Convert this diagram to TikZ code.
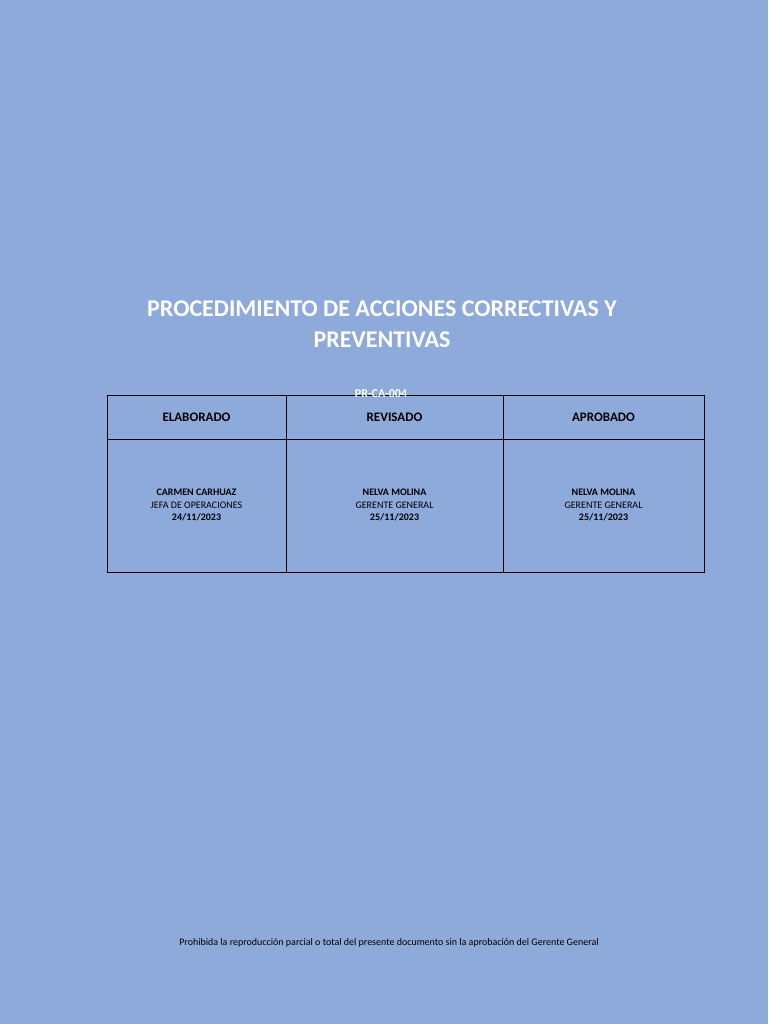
\documentclass[tikz,border=0pt]{standalone}
\usepackage{fontspec}
\setmainfont{Carlito}
\definecolor{bg}{HTML}{8EAADB}
\begin{document}
\begin{tikzpicture}[x=1pt,y=-1pt,
  hdr/.style={font=\fontsize{13}{15}\selectfont\bfseries, text=black},
  cell/.style={font=\fontsize{10}{12.5}\selectfont, align=center, text=black}]
\fill[bg] (0,0) rectangle (768,1024);
\useasboundingbox (0,0) rectangle (768,1024);
\node[text=white, font=\fontsize{24}{31}\selectfont\bfseries, align=center] (title) at (382,324) {PROCEDIMIENTO DE ACCIONES CORRECTIVAS Y\\PREVENTIVAS};
\draw[line width=0.8pt] (107,395) rectangle (704,572);
\draw[line width=0.8pt] (107,439) -- (704,439);
\draw[line width=0.8pt] (286,395) -- (286,572);
\draw[line width=0.8pt] (503,395) -- (503,572);
\node[text=white, font=\fontsize{12}{14}\selectfont\bfseries] (code) at (381,394) {PR-CA-004};
\node[hdr] (h1) at (196.5,417) {ELABORADO};
\node[hdr] (h2) at (394.5,417) {REVISADO};
\node[hdr] (h3) at (603.5,417) {APROBADO};
\node[cell] (c1) at (196.5,505) {\textbf{CARMEN CARHUAZ}\\JEFA DE OPERACIONES\\\textbf{24/11/2023}};
\node[cell] (c2) at (394.5,505) {\textbf{NELVA MOLINA}\\GERENTE GENERAL\\\textbf{25/11/2023}};
\node[cell] (c3) at (603.5,505) {\textbf{NELVA MOLINA}\\GERENTE GENERAL\\\textbf{25/11/2023}};
\node[font=\fontsize{10}{12}\selectfont, text=black] (foot) at (389,943) {Prohibida la reproducción parcial o total del presente documento sin la aprobación del Gerente General};
\end{tikzpicture}
\end{document}
